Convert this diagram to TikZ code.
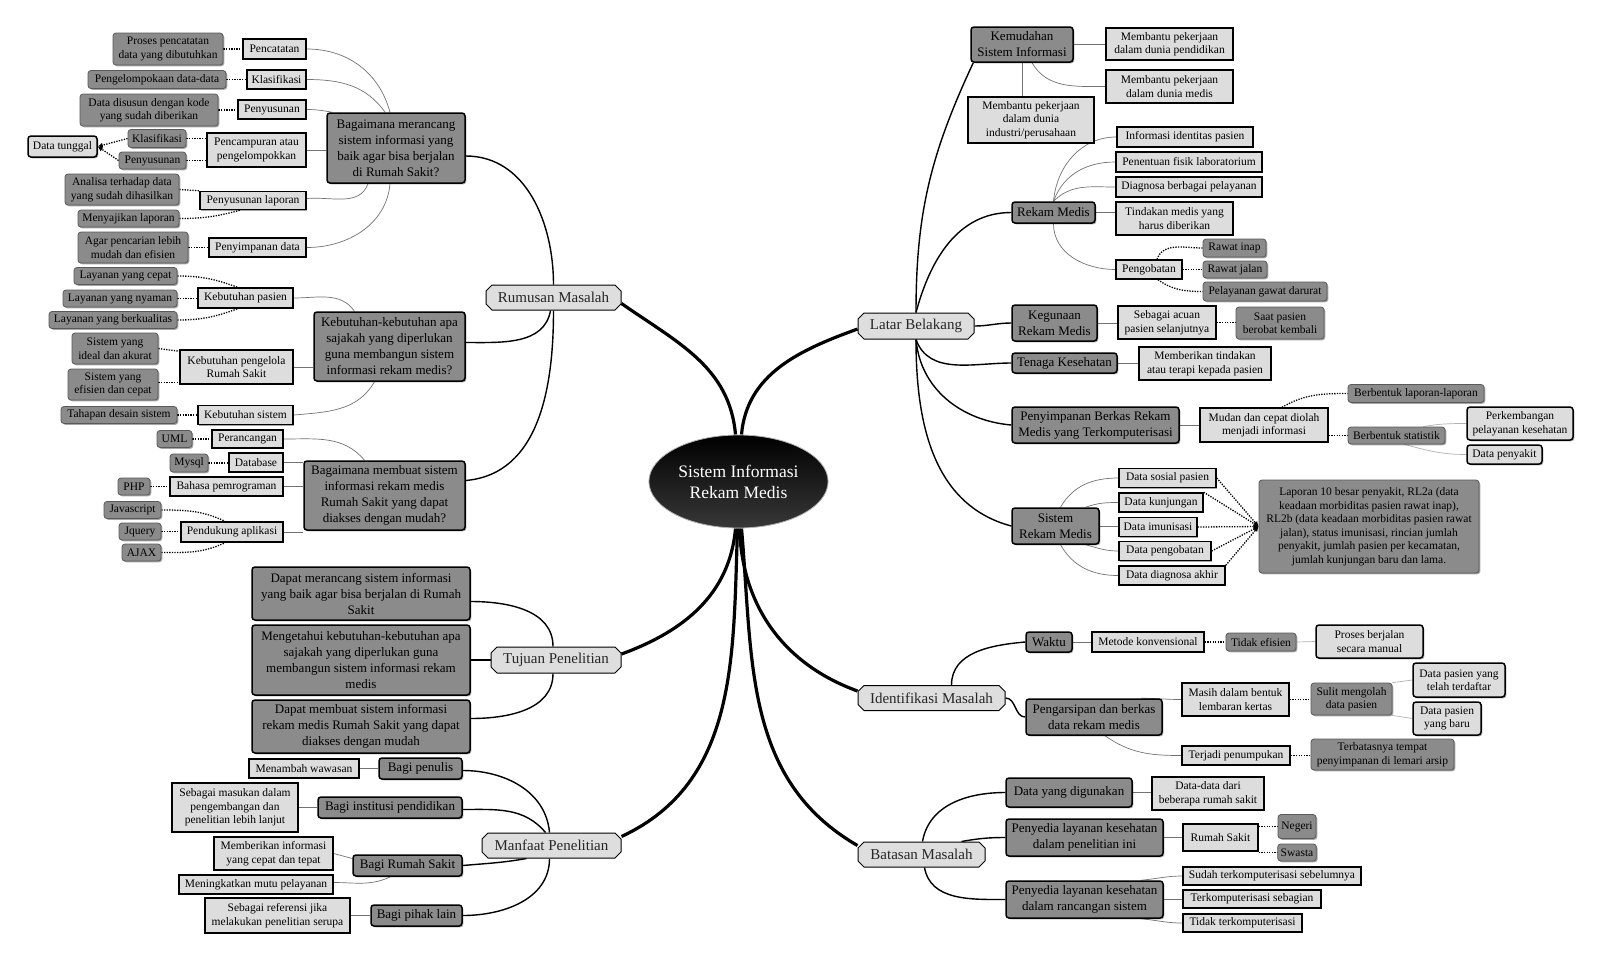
\documentclass[tikz,border=0pt]{standalone}
\usepackage{fontspec}
\setmainfont{Liberation Serif}
\usetikzlibrary{shapes.misc,shapes.geometric,shadows,arrows.meta,backgrounds}
\definecolor{dkfill}{RGB}{139,139,139}
\definecolor{ltfill}{RGB}{221,221,221}
\definecolor{lvfill}{RGB}{222,222,222}
\tikzset{
 sz/.style 2 args={minimum width=#1pt,minimum height=#2pt},
 fs/.style={font=\fontsize{11.5}{13.5}\selectfont},
 fm/.style={font=\fontsize{13}{16}\selectfont},
 shd/.style={drop shadow={shadow xshift=1.3pt,shadow yshift=-1.3pt,opacity=0.35,fill=black}},
 ltbox/.style={rectangle,draw=black,line width=1.5pt,fill=ltfill,shd,fs,align=center,inner xsep=3pt,inner ysep=2pt},
 ltround/.style={ltbox,rounded corners=3pt},
 dkleaf/.style={rectangle,rounded corners=3pt,draw=black!65,line width=0.8pt,fill=dkfill,shd,fs,align=center,inner xsep=3pt,inner ysep=2pt},
 dkbox/.style={rectangle,rounded corners=3pt,draw=black,line width=1.5pt,fill=dkfill,shd,fm,align=center,inner xsep=3pt,inner ysep=2pt},
 lvone/.style={chamfered rectangle,chamfered rectangle xsep=3pt,chamfered rectangle ysep=3pt,draw=black,line width=1pt,fill=lvfill,text=black!85,font=\fontsize{15}{18}\selectfont,inner sep=2pt},
 cenline/.style={line width=3.2pt,black},
 lvline/.style={line width=1.4pt,black},
 tline/.style={line width=0.7pt,black!55},
 tline2/.style={line width=0.7pt,black!30},
 dotl/.style={line width=1.3pt,black,dash pattern=on 1.3pt off 1.3pt},
 arrtip/.style={-{Latex[length=5pt,width=5pt]}},
}
\begin{document}
\begin{tikzpicture}[x=1pt,y=1pt]
\useasboundingbox (0,0) rectangle (1600,-962);
\begin{pgfonlayer}{background}
\fill[white] (0,0) rectangle (1600,-962);
\end{pgfonlayer}

% centre
\node[ellipse,sz={171}{93},top color=black,bottom color=black!78,draw=black!30,line width=0.8pt,text=white,font=\fontsize{17.5}{21}\selectfont,align=center] (C) at (738.5,-481.5) {Sistem Informasi\\Rekam Medis};

% ---------------- Rumusan Masalah
\node[lvone,sz={135}{25}] (RM) at (553.5,-297.5) {Rumusan Masalah};
\node[dkbox,sz={138}{70}] (q1) at (396,-148) {Bagaimana merancang\\sistem informasi yang\\baik agar bisa berjalan\\di Rumah Sakit?};
\node[dkbox,sz={151}{69}] (q2) at (389.5,-346.5) {Kebutuhan-kebutuhan apa\\sajakah yang diperlukan\\guna membangun sistem\\informasi rekam medis?};
\node[dkbox,sz={161}{69}] (q3) at (384.5,-495.5) {Bagaimana membuat sistem\\informasi rekam medis\\Rumah Sakit yang dapat\\diakses dengan mudah?};

\node[ltbox,sz={63}{20}] (pc1) at (274.5,-49) {Pencatatan};
\node[dkleaf,sz={110}{32}] (p1) at (168,-49) {Proses pencatatan\\data yang dibutuhkan};
\node[ltbox,sz={59}{19}] (kl1) at (276.5,-79.5) {Klasifikasi};
\node[dkleaf,sz={138}{18}] (p2) at (157,-79.5) {Pengelompokaan data-data};
\node[ltbox,sz={68}{19}] (ps1) at (272,-109.5) {Penyusunan};
\node[dkleaf,sz={138}{32}] (p3) at (149,-110) {Data disusun dengan kode\\yang sudah diberikan};
\node[ltbox,sz={99}{34}] (pcm) at (256.5,-150) {Pencampuran atau\\pengelompokkan};
\node[dkleaf,sz={58}{18}] (kd) at (157,-138.5) {Klasifikasi};
\node[dkleaf,sz={67}{17}] (psd) at (152.5,-160.5) {Penyusunan};
\node[ltround,sz={69}{21}] (dt) at (62.5,-146.5) {Data tunggal};
\node[ltbox,sz={106}{18}] (pl) at (253,-200.5) {Penyusunan laporan};
\node[dkleaf,sz={114}{31}] (an) at (122,-189.5) {Analisa terhadap data\\yang sudah dihasilkan};
\node[dkleaf,sz={101}{17}] (mj) at (128.5,-218.5) {Menyajikan laporan};
\node[ltbox,sz={97}{19}] (pd) at (257.5,-247.5) {Penyimpanan data};
\node[dkleaf,sz={110}{31}] (ag) at (133,-247.5) {Agar pencarian lebih\\mudah dan efisien};

\node[ltbox,sz={95}{20}] (kp) at (245.5,-298) {Kebutuhan pasien};
\node[dkleaf,sz={103}{17}] (lc) at (125.5,-276) {Layanan yang cepat};
\node[dkleaf,sz={114}{17}] (ln) at (120,-298.5) {Layanan yang nyaman};
\node[dkleaf,sz={128}{17}] (lb) at (113,-320) {Layanan yang berkualitas};
\node[ltbox,sz={113}{34}] (kprs) at (236.5,-367) {Kebutuhan pengelola\\Rumah Sakit};
\node[dkleaf,sz={86}{31}] (si) at (115,-348.5) {Sistem yang\\ideal dan akurat};
\node[dkleaf,sz={90}{31}] (se) at (113,-384.5) {Sistem yang\\efisien dan cepat};
\node[ltbox,sz={95}{19}] (ks) at (245.5,-415) {Kebutuhan sistem};
\node[dkleaf,sz={116}{17}] (td) at (119,-415) {Tahapan desain sistem};

\node[ltbox,sz={71}{18}] (per) at (247.5,-439) {Perancangan};
\node[dkleaf,sz={35}{17}] (uml) at (174.5,-439) {UML};
\node[ltbox,sz={54}{19}] (db) at (256,-462.5) {Database};
\node[dkleaf,sz={38}{18}] (my) at (189,-463) {Mysql};
\node[ltbox,sz={113}{19}] (bp) at (226.5,-486.5) {Bahasa pemrograman};
\node[dkleaf,sz={32}{17}] (php) at (134,-486.5) {PHP};
\node[ltbox,sz={102}{20}] (pa2) at (232,-532) {Pendukung aplikasi};
\node[dkleaf,sz={57}{17}] (js) at (132.5,-510) {Javascript};
\node[dkleaf,sz={42}{17}] (jq) at (140,-531.5) {Jquery};
\node[dkleaf,sz={39}{17}] (ajax) at (141.5,-552.5) {AJAX};

% ---------------- Tujuan Penelitian
\node[lvone,sz={130}{26}] (TP) at (556,-660) {Tujuan Penelitian};
\node[dkbox,sz={218}{53}] (t1) at (361,-593.5) {Dapat merancang sistem informasi\\yang baik agar bisa berjalan di Rumah\\Sakit};
\node[dkbox,sz={218}{70}] (t2) at (361,-660) {Mengetahui kebutuhan-kebutuhan apa\\sajakah yang diperlukan guna\\membangun sistem informasi rekam\\medis};
\node[dkbox,sz={218}{53}] (t3) at (361,-726.5) {Dapat membuat sistem informasi\\rekam medis Rumah Sakit yang dapat\\diakses dengan mudah};

% ---------------- Manfaat Penelitian
\node[lvone,sz={139}{25}] (MP) at (551.5,-845.5) {Manfaat Penelitian};
\node[dkbox,sz={83}{21}] (bpn) at (420.5,-768.5) {Bagi penulis};
\node[ltbox,sz={110}{19}] (mw) at (304,-768.5) {Menambah wawasan};
\node[dkbox,sz={144}{21}] (bip) at (390,-807.5) {Bagi institusi pendidikan};
\node[ltbox,sz={126}{49}] (sm) at (235,-807.5) {Sebagai masukan dalam\\pengembangan dan\\penelitian lebih lanjut};
\node[dkbox,sz={109}{21}] (brs) at (407.5,-865.5) {Bagi Rumah Sakit};
\node[ltbox,sz={119}{33}] (mi) at (273.5,-853.5) {Memberikan informasi\\yang cepat dan tepat};
\node[ltbox,sz={154}{19}] (mm) at (256,-884.5) {Meningkatkan mutu pelayanan};
\node[dkbox,sz={91}{21}] (bpl) at (416.5,-915.5) {Bagi pihak lain};
\node[ltbox,sz={145}{35}] (sr) at (277.5,-915.5) {Sebagai referensi jika\\melakukan penelitian serupa};

% ---------------- Latar Belakang
\node[lvone,sz={116}{26}] (LB) at (916,-326) {Latar Belakang};
\node[dkbox,sz={102}{35}] (ke) at (1022,-44.5) {Kemudahan\\Sistem Informasi};
\node[ltbox,sz={127}{32}] (mbp) at (1169.5,-44) {Membantu pekerjaan\\dalam dunia pendidikan};
\node[ltbox,sz={127}{33}] (mbm) at (1169.5,-86.5) {Membantu pekerjaan\\dalam dunia medis};
\node[ltbox,sz={126}{46}] (mbi) at (1031,-120) {Membantu pekerjaan\\dalam dunia\\industri/perusahaan};
\node[dkbox,sz={83}{21}] (rmd) at (1053.5,-212.5) {Rekam Medis};
\node[ltbox,sz={136}{20}] (iip) at (1185,-137) {Informasi identitas pasien};
\node[ltbox,sz={146}{20}] (pfl) at (1189,-162) {Penentuan fisik laboratorium};
\node[ltbox,sz={146}{20}] (dbp) at (1189,-187) {Diagnosa berbagai pelayanan};
\node[ltbox,sz={117}{33}] (tmd) at (1174.5,-218.5) {Tindakan medis yang\\harus diberikan};
\node[ltbox,sz={66}{19}] (peng) at (1149,-269.5) {Pengobatan};
\node[dkleaf,sz={63}{18}] (ri) at (1234.5,-248) {Rawat inap};
\node[dkleaf,sz={64}{17}] (rj) at (1235,-269.5) {Rawat jalan};
\node[dkleaf,sz={124}{19}] (pgd) at (1265,-291.5) {Pelayanan gawat darurat};
\node[dkbox,sz={85}{36}] (keg) at (1054.5,-323) {Kegunaan\\Rekam Medis};
\node[ltbox,sz={98}{33}] (sap) at (1167,-322.5) {Sebagai acuan\\pasien selanjutnya};
\node[dkleaf,sz={88}{32}] (spb) at (1280,-323) {Saat pasien\\berobat kembali};
\node[dkbox,sz={105}{20}] (tk) at (1064.5,-363) {Tenaga Kesehatan};
\node[ltbox,sz={132}{33}] (mt) at (1205,-363.5) {Memberikan tindakan\\atau terapi kepada pasien};
\node[dkbox,sz={167}{36}] (pb) at (1095.5,-425) {Penyimpanan Berkas Rekam\\Medis yang Terkomputerisasi};
\node[ltbox,sz={128}{34}] (mdc) at (1264,-425) {Mudan dan cepat diolah\\menjadi informasi};
\node[dkleaf,sz={136}{18}] (bl) at (1416,-393.5) {Berbentuk laporan-laporan};
\node[dkleaf,sz={97}{17}] (bs) at (1396.5,-435.5) {Berbentuk statistik};
\node[ltround,sz={106}{33}] (pk) at (1520,-423.5) {Perkembangan\\pelayanan kesehatan};
\node[ltround,sz={75}{19}] (dp) at (1504.5,-454.5) {Data penyakit};
\node[dkbox,sz={87}{36}] (srm) at (1055.5,-526) {Sistem\\Rekam Medis};
\node[ltbox,sz={97}{19}] (dsp) at (1167.5,-478) {Data sosial pasien};
\node[ltbox,sz={84}{19}] (dk) at (1161,-502.5) {Data kunjungan};
\node[ltbox,sz={78}{19}] (di) at (1158,-527) {Data imunisasi};
\node[ltbox,sz={92}{19}] (dpg) at (1165,-551) {Data pengobatan};
\node[ltbox,sz={106}{19}] (dda) at (1172,-575.5) {Data diagnosa akhir};
\node[dkleaf,sz={220}{93}] (lap) at (1369,-526.5) {Laporan 10 besar penyakit, RL2a (data\\keadaan morbiditas pasien rawat inap),\\RL2b (data keadaan morbiditas pasien rawat\\jalan), status imunisasi, rincian jumlah\\penyakit, jumlah pasien per kecamatan,\\jumlah kunjungan baru dan lama.};

% ---------------- Identifikasi Masalah
\node[lvone,sz={147}{25}] (IM) at (931.5,-698) {Identifikasi Masalah};
\node[dkbox,sz={46}{20}] (wk) at (1049,-642) {Waktu};
\node[ltbox,sz={112}{20}] (mk) at (1148,-642) {Metode konvensional};
\node[dkleaf,sz={70}{18}] (te) at (1261,-642) {Tidak efisien};
\node[ltround,sz={107}{33}] (pbm) at (1369.5,-641.5) {Proses berjalan\\secara manual};
\node[dkbox,sz={136}{36}] (pa) at (1094,-717) {Pengarsipan dan berkas\\data rekam medis};
\node[ltbox,sz={107}{33}] (mdb) at (1235.5,-699.5) {Masih dalam bentuk\\lembaran kertas};
\node[dkleaf,sz={81}{32}] (smd) at (1351.5,-699) {Sulit mengolah\\data pasien};
\node[ltround,sz={92}{34}] (dpt) at (1459,-680) {Data pasien yang\\telah terdaftar};
\node[ltround,sz={68}{33}] (dpbr) at (1447,-718.5) {Data pasien\\yang baru};
\node[ltbox,sz={108}{19}] (tp2) at (1236,-755.5) {Terjadi penumpukan};
\node[dkleaf,sz={143}{31}] (tbt) at (1382.5,-754.5) {Terbatasnya tempat\\penyimpanan di lemari arsip};

% ---------------- Batasan Masalah
\node[lvone,sz={127}{25}] (BM) at (921.5,-854.5) {Batasan Masalah};
\node[dkbox,sz={126}{29}] (dyd) at (1069,-792.5) {Data yang digunakan};
\node[ltbox,sz={112}{33}] (ddr) at (1208,-793.5) {Data-data dari\\beberapa rumah sakit};
\node[dkbox,sz={157}{37}] (pp) at (1084.5,-837.5) {Penyedia layanan kesehatan\\dalam penelitian ini};
\node[ltbox,sz={75}{27}] (rs) at (1220.5,-837.5) {Rumah Sakit};
\node[dkleaf,sz={38}{24}] (ng) at (1297,-826.5) {Negeri};
\node[dkleaf,sz={38}{17}] (sw) at (1297,-852.5) {Swasta};
\node[dkbox,sz={157}{37}] (prs) at (1084.5,-899.5) {Penyedia layanan kesehatan\\dalam rancangan sistem};
\node[ltbox,sz={178}{18}] (stk) at (1272,-876) {Sudah terkomputerisasi sebelumnya};
\node[ltbox,sz={138}{18}] (tks) at (1252,-899) {Terkomputerisasi sebagian};
\node[ltbox,sz={119}{18}] (ttk) at (1242.5,-923) {Tidak terkomputerisasi};

\begin{pgfonlayer}{background}
% centre lines
\draw[cenline] ([xshift=-3pt]C.north) to[out=95,in=-35] ([yshift=-6pt]RM.east);
\draw[cenline] ([xshift=3pt]C.north) to[out=85,in=200] ([yshift=-3pt]LB.west);
\draw[cenline] ([xshift=-3pt]C.south) to[out=-95,in=20] ([yshift=6pt]TP.east);
\draw[cenline] ([xshift=-1pt]C.south) to[out=-92,in=25] ([yshift=9pt]MP.east);
\draw[cenline] ([xshift=1pt]C.south) to[out=-88,in=160] ([yshift=7pt]IM.west);
\draw[cenline] ([xshift=3pt]C.south) to[out=-85,in=150] ([yshift=9pt]BM.west);

% Rumusan
\draw[lvline] (RM.north) to[out=90,in=0] ([yshift=-8pt]q1.east);
\draw[lvline] ([xshift=-3pt]RM.south) to[out=-100,in=0] ([yshift=4pt]q2.east);
\draw[lvline] (RM.south) to[out=-90,in=5] ([yshift=15pt]q3.east);
\draw[tline] (pc1.east) to[out=0,in=105] ([xshift=-6pt]q1.north);
\draw[tline] (kl1.east) to[out=0,in=125] ([xshift=-11pt]q1.north);
\draw[tline] (ps1.east) to[out=0,in=170] ([xshift=6pt]q1.north west);
\draw[tline] (pcm.east) -- (pcm.east -| q1.west);
\draw[tline] ([yshift=2pt]pl.east) to[out=5,in=-110] ([xshift=-28pt]q1.south);
\draw[tline] (pd.east) to[out=0,in=-95] ([xshift=-6pt]q1.south);
\draw[dotl] (p1.east) -- (pc1.west);
\draw[dotl] (p2.east) -- (kl1.west);
\draw[dotl] (p3.east) -- (p3.east -| ps1.west);
\draw[dotl] (kd.east) -- (kd.east -| pcm.west);
\draw[dotl] (psd.east) -- (psd.east -| pcm.west);
\draw[dotl,arrtip] (kd.west) -- (dt.east);
\draw[dotl,arrtip] (psd.west) -- (dt.east);
\draw[dotl] (an.east) -- (pl.north west);
\draw[dotl] (mj.east) to[out=0,in=-165] ([xshift=-13pt]pl.south);
\draw[dotl] (ag.east) -- (ag.east -| pd.west);

\draw[tline] (kp.east) to[out=0,in=125] ([xshift=-35pt]q2.north);
\draw[tline] (kprs.east) -- (kprs.east -| q2.west);
\draw[tline] (ks.east) to[out=5,in=-120] ([xshift=-15pt]q2.south);
\draw[dotl] (lc.east) to[out=0,in=160] ([xshift=-8pt]kp.north);
\draw[dotl] (ln.east) -- (ln.east -| kp.west);
\draw[dotl] (lb.east) to[out=0,in=-160] ([xshift=-8pt]kp.south);
\draw[dotl] (si.east) -- ([yshift=-2pt]kprs.north west);
\draw[dotl] ([yshift=2pt]se.east) -- ([yshift=2pt]se.east -| kprs.west);
\draw[dotl] (td.east) -- (ks.west);

\draw[tline] (per.east) to[out=0,in=130] ([xshift=-20pt]q3.north);
\draw[tline] (db.east) -- (db.east -| q3.west);
\draw[tline] (bp.east) -- (bp.east -| q3.west);
\draw[tline] (pa2.east) -- (pa2.east -| q3.west);
\draw[dotl] (uml.east) -- (per.west);
\draw[dotl] (my.east) -- (my.east -| db.west);
\draw[dotl] (php.east) -- (bp.west);
\draw[dotl] (js.east) to[out=0,in=155] ([xshift=-7pt]pa2.north);
\draw[dotl] (jq.east) -- (jq.east -| pa2.west);
\draw[dotl] (ajax.east) to[out=0,in=-155] ([xshift=-7pt]pa2.south);

% Tujuan
\draw[lvline] ([xshift=-3pt]TP.north) to[out=90,in=0] ([yshift=-8pt]t1.east);
\draw[lvline] (TP.west) -- (t2.east);
\draw[lvline] ([xshift=-3pt]TP.south) to[out=-90,in=0] ([yshift=8pt]t3.east);

% Manfaat
\draw[lvline] ([yshift=-2pt]bpn.east) to[out=0,in=95] ([xshift=-2pt]MP.north);
\draw[lvline] ([yshift=-2pt]bip.east) to[out=0,in=130] ([xshift=-6pt]MP.north);
\draw[lvline] (brs.east) to[out=5,in=190] ([xshift=-25pt]MP.south);
\draw[lvline] (bpl.east) to[out=0,in=-90] ([xshift=-2pt]MP.south);
\draw[tline] (mw.east) -- (bpn.west);
\draw[tline] (sm.east) -- (sm.east -| bip.west);
\draw[tline] (mi.east) -- ([yshift=7pt]brs.west);
\draw[tline] ([yshift=2pt]mm.east) to[out=0,in=-155] ([xshift=-17pt]brs.south);
\draw[tline] (sr.east) -- (bpl.west);

% Latar Belakang
\draw[lvline] (LB.north) to[out=90,in=-115] ([xshift=3pt]ke.south west);
\draw[lvline] (LB.north) to[out=75,in=180] (rmd.west);
\draw[lvline] (LB.east) to[out=0,in=180] (keg.west);
\draw[lvline] (LB.south) to[out=-70,in=180] (tk.west);
\draw[lvline] (LB.south) to[out=-85,in=175] (pb.west);
\draw[lvline] (LB.south) to[out=-90,in=165] (srm.west);
\draw[tline] (ke.east) -- (ke.east -| mbp.west);
\draw[tline] ([xshift=10pt]ke.south) to[out=-60,in=180] (mbm.west);
\draw[tline] (ke.south) -- (ke.south |- mbi.north);
\draw[tline] (rmd.north) to[out=85,in=180] (iip.west);
\draw[tline] (rmd.north) to[out=70,in=180] (pfl.west);
\draw[tline] (rmd.north) to[out=45,in=180] (dbp.west);
\draw[tline] (rmd.east) -- (rmd.east -| tmd.west);
\draw[tline] (rmd.south) to[out=-90,in=180] (peng.west);
\draw[dotl] ([xshift=8pt]peng.north) to[out=70,in=180] (ri.west);
\draw[dotl] (peng.east) -- (rj.west);
\draw[dotl] ([xshift=9pt]peng.south) to[out=-35,in=180] (pgd.west);
\draw[tline] (keg.east) -- (keg.east -| sap.west);
\draw[dotl] (sap.east) -- (sap.east -| spb.west);
\draw[tline] (tk.east) -- (tk.east -| mt.west);
\draw[tline] (pb.east) -- (pb.east -| mdc.west);
\draw[dotl] ([xshift=18pt]mdc.north) to[out=30,in=180] (bl.west);
\draw[dotl] (mdc.east |- bs.west) -- (bs.west);
\draw[tline2] ([xshift=-22pt]bs.north east) to[out=10,in=180] (pk.west);
\draw[tline2] ([xshift=8pt]bs.south) to[out=-15,in=180] (dp.west);
\draw[tline] ([xshift=5pt]srm.north) to[out=60,in=180] (dsp.west);
\draw[tline] ([xshift=-14pt]srm.north east) to[out=20,in=180] (dk.west);
\draw[tline] (srm.east) -- (srm.east -| di.west);
\draw[tline] ([xshift=-14pt]srm.south east) to[out=-15,in=180] (dpg.west);
\draw[tline] ([xshift=5pt]srm.south) to[out=-60,in=180] (dda.west);
\draw[dotl,arrtip] (dsp.east) -- (lap.west);
\draw[dotl,arrtip] (dk.north east) -- (lap.west);
\draw[dotl,arrtip] (di.east) -- (lap.west);
\draw[dotl,arrtip] (dpg.east) -- (lap.west);
\draw[dotl,arrtip] (dda.north east) -- (lap.west);

% Identifikasi
\draw[lvline] ([xshift=20pt]IM.north) to[out=90,in=185] (wk.west);
\draw[lvline] (IM.east) to[out=0,in=180] (pa.west);
\draw[tline] (wk.east) -- (mk.west);
\draw[dotl] (mk.east) -- (te.west);
\draw[tline2] (te.east) -- (pbm.west);
\draw[tline] ([xshift=-22pt]pa.north east) to[out=0,in=180] (mdb.west);
\draw[dotl] (mdb.east) -- (mdb.east -| smd.west);
\draw[tline2] (smd.north east) -- (dpt.west);
\draw[tline2] (smd.south east) -- (dpbr.west);
\draw[tline] ([xshift=11pt]pa.south) to[out=-35,in=180] (tp2.west);
\draw[dotl] (tp2.east) -- (tp2.east -| tbt.west);

% Batasan
\draw[lvline] ([xshift=1pt]BM.north) to[out=80,in=180] (dyd.west);
\draw[lvline] ([xshift=40pt]BM.north) to[out=10,in=180] (pp.west);
\draw[lvline] ([xshift=3pt]BM.south) to[out=-80,in=180] (prs.west);
\draw[tline] (dyd.east) -- (dyd.east -| ddr.west);
\draw[tline] (pp.east) -- (pp.east -| rs.west);
\draw[dotl] (rs.east |- ng.west) -- (ng.west);
\draw[dotl] (rs.east |- sw.west) -- (sw.west);
\draw[tline] ([xshift=-23pt]prs.north east) to[out=5,in=180] (stk.west);
\draw[tline] (prs.east) -- (prs.east -| tks.west);
\draw[tline] ([xshift=-23pt]prs.south east) to[out=-5,in=180] (ttk.west);
\end{pgfonlayer}
\end{tikzpicture}
\end{document}
